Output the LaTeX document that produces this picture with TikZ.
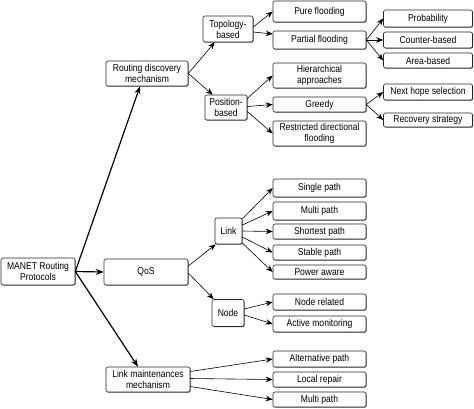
\documentclass[tikz,border=0pt]{standalone}
\usepackage{fontspec}
\setmainfont[FakeStretch=0.86]{Liberation Sans}
\usetikzlibrary{arrows.meta,shadows}
\begin{document}
\begin{tikzpicture}[x=1bp,y=-1bp,
  box/.style={draw=black!85, line width=0.6pt, rounded corners=2pt, fill=white,
    align=center, inner sep=1pt, font=\fontsize{10}{11}\selectfont,
    drop shadow={shadow xshift=0.6pt, shadow yshift=-0.6pt, fill=black!70, opacity=1}},
  thin/.style={line width=0.6pt, -{Stealth[length=7pt,width=5.5pt]}},
  thick/.style={line width=1.2pt, -{Stealth[length=8pt,width=6pt]}}]
\useasboundingbox (0,0) rectangle (474,408);
\def\bx#1#2#3#4#5#6{\node[box, minimum width=#4bp, minimum height=#5bp] (#1) at (#2,#3) {#6};}
% level 1
\bx{manet}{38}{271.5}{74}{27}{MANET Routing\\Protocols}
% level 2
\bx{rd}{147}{73.5}{82}{25}{Routing discovery\\mechanism}
\bx{qos}{146}{272}{84}{26}{QoS}
\bx{lm}{148}{379.5}{84}{25}{Link maintenances\\mechanism}
% level 3 (middle)
\bx{topo}{228}{29}{50}{26}{Topology-\\based}
\bx{pos}{226}{107.5}{42}{25}{Position-\\based}
\bx{link}{228.5}{231}{27}{26}{Link}
\bx{nodeq}{228}{313}{32}{27}{Node}
% leaves
\bx{pure}{319.5}{11.5}{93}{21}{Pure flooding}
\bx{partial}{319.5}{40}{93}{18}{Partial flooding}
\bx{hier}{319.5}{75.5}{93}{25}{Hierarchical\\approaches}
\bx{greedy}{319.5}{104.5}{93}{15}{Greedy}
\bx{restr}{319.5}{133.5}{93}{25}{Restricted directional\\flooding}
\bx{single}{319.5}{188}{93}{18}{Single path}
\bx{multia}{319.5}{211}{93}{18}{Multi path}
\bx{short}{319.5}{231.5}{93}{15}{Shortest path}
\bx{stable}{319.5}{252.5}{93}{15}{Stable path}
\bx{power}{319.5}{272}{93}{14}{Power aware}
\bx{noderel}{319.5}{302}{93}{16}{Node related}
\bx{active}{319.5}{324}{93}{16}{Active monitoring}
\bx{alt}{319.5}{359}{93}{16}{Alternative path}
\bx{local}{319.5}{379.5}{93}{15}{Local repair}
\bx{multib}{319.5}{399.5}{93}{15}{Multi path}
\bx{prob}{428}{18.5}{89}{17}{Probability}
\bx{counter}{428}{40}{89}{16}{Counter-based}
\bx{area}{428}{60.5}{89}{15}{Area-based}
\bx{next}{428}{92}{89}{16}{Next hope selection}
\bx{recov}{428}{120}{89}{14}{Recovery strategy}
% main arrows
\draw[thick] (manet.east) -- ([xshift=-7bp]rd.south);
\draw[thick] (manet.east) -- (qos.west);
\draw[thick] (manet.east) -- ([xshift=-10bp]lm.north);
% routing discovery
\draw[thin] (rd.east) -- ([xshift=12bp]topo.south west);
\draw[thin] (rd.east) -- ([xshift=8bp]pos.north west);
\draw[thin] ([yshift=2bp]topo.east) -- (pure.west);
\draw[thin] ([yshift=-3bp]topo.east) -- ([yshift=6bp]partial.west);
\draw[thin] (partial.east) -- (prob.west);
\draw[thin] (partial.east) -- (counter.west);
\draw[thin] (partial.east) -- (area.west);
\draw[thin] ([yshift=9bp]pos.east) -- (hier.west);
\draw[thin] ([yshift=1bp]pos.east) -- (greedy.west);
\draw[thin] ([yshift=-4bp]pos.east) -- (restr.west);
\draw[thin] (greedy.east) -- (next.west);
\draw[thin] (greedy.east) -- (recov.west);
% QoS
\draw[thin] ([yshift=6bp]qos.east) -- ([xshift=1bp]link.south west);
\draw[thin] ([yshift=-1bp]qos.east) -- ([xshift=2bp]nodeq.north west);
\draw[thin] ([yshift=12bp]link.east) -- (single.west);
\draw[thin] ([yshift=6bp]link.east) -- (multia.west);
\draw[thin] (link.east) -- (short.west);
\draw[thin] ([yshift=-6bp]link.east) -- (stable.west);
\draw[thin] ([yshift=-12bp]link.east) -- (power.west);
\draw[thin] ([yshift=4bp]nodeq.east) -- (noderel.west);
\draw[thin] ([yshift=-2bp]nodeq.east) -- (active.west);
% link maintenance
\draw[thin] ([yshift=8bp]lm.east) -- (alt.west);
\draw[thin] ([yshift=1bp]lm.east) -- (local.west);
\draw[thin] ([yshift=-7bp]lm.east) -- (multib.west);
\end{tikzpicture}
\end{document}
